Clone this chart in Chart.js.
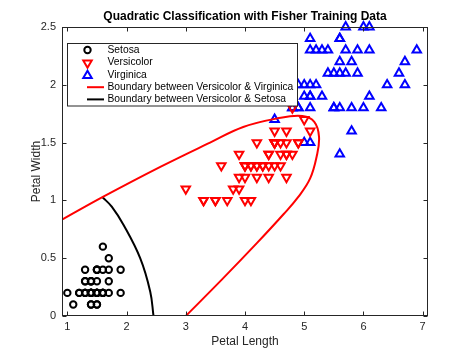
<!DOCTYPE html>
<html><head><meta charset="utf-8">
<script src="https://cdn.jsdelivr.net/npm/chart.js@4"></script>
<style>html,body{margin:0;padding:0;background:#fff;}canvas{display:block;}</style>
</head><body>
<canvas id="c" width="474" height="355"></canvas>
<script>
// ---- data (petal length / petal width) ----
const setosaLength = [1.4,1.4,1.3,1.5,1.4,1.7,1.4,1.5,1.4,1.5,1.5,1.6,1.4,1.1,1.2,1.5,1.3,1.4,1.7,1.5,1.7,1.5,1.0,1.7,1.9,1.6,1.6,1.5,1.4,1.6,1.6,1.5,1.5,1.4,1.5,1.2,1.3,1.4,1.3,1.5,1.3,1.3,1.3,1.6,1.9,1.4,1.6,1.4,1.5,1.4];
const setosaWidth  = [0.2,0.2,0.2,0.2,0.2,0.4,0.3,0.2,0.2,0.1,0.2,0.2,0.1,0.1,0.2,0.4,0.4,0.3,0.3,0.3,0.2,0.4,0.2,0.5,0.2,0.2,0.4,0.2,0.2,0.2,0.2,0.4,0.1,0.2,0.2,0.2,0.2,0.1,0.2,0.2,0.3,0.3,0.2,0.6,0.4,0.3,0.2,0.2,0.2,0.2];
const versicolorLength = [4.7,4.5,4.9,4.0,4.6,4.5,4.7,3.3,4.6,3.9,3.5,4.2,4.0,4.7,3.6,4.4,4.5,4.1,4.5,3.9,4.8,4.0,4.9,4.7,4.3,4.4,4.8,5.0,4.5,3.5,3.8,3.7,3.9,5.1,4.5,4.5,4.7,4.4,4.1,4.0,4.4,4.6,4.0,3.3,4.2,4.2,4.2,4.3,3.0,4.1];
const versicolorWidth  = [1.4,1.5,1.5,1.3,1.5,1.3,1.6,1.0,1.3,1.4,1.0,1.5,1.0,1.4,1.3,1.4,1.5,1.0,1.5,1.1,1.8,1.3,1.5,1.2,1.3,1.4,1.4,1.7,1.5,1.0,1.1,1.0,1.2,1.6,1.5,1.6,1.5,1.3,1.3,1.3,1.2,1.4,1.2,1.0,1.3,1.2,1.3,1.3,1.1,1.3];
const virginicaLength = [6.0,5.1,5.9,5.6,5.8,6.6,4.5,6.3,5.8,6.1,5.1,5.3,5.5,5.0,5.1,5.3,5.5,6.7,6.9,5.0,5.7,4.9,6.7,4.9,5.7,6.0,4.8,4.9,5.6,5.8,6.1,6.4,5.6,5.1,5.6,6.1,5.6,5.5,4.8,5.4,5.6,5.1,5.1,5.9,5.7,5.2,5.0,5.2,5.4,5.1];
const virginicaWidth  = [2.5,1.9,2.1,1.8,2.2,2.1,1.7,1.8,1.8,2.5,2.0,1.9,2.1,2.0,2.4,2.3,1.8,2.2,2.3,1.5,2.3,2.0,2.0,1.8,2.1,1.8,1.8,1.8,2.1,1.6,1.9,2.0,2.2,1.5,1.4,2.3,2.4,1.8,1.8,2.1,2.4,2.3,1.9,2.3,2.5,2.3,1.9,2.0,2.3,1.8];
// boundary curves
const vvBoundaryX = [0.9, 1.6, 2.57, 3.41, 3.97, 4.55, 4.97, 5.17, 5.25, 5.21, 5.10, 4.90, 4.65, 4.20, 3.60, 3.0];
const vvBoundaryY = [0.83, 1.03, 1.29, 1.50, 1.635, 1.71, 1.73, 1.68, 1.55, 1.38, 1.19, 1.03, 0.88, 0.63, 0.31, 0.0];
const vsBoundaryX = [1.595, 1.75, 1.95, 2.23, 2.40, 2.455];
const vsBoundaryY = [1.027, 0.946, 0.787, 0.50, 0.21, 0.0];
const xTicks = [1, 2, 3, 4, 5, 6, 7];
const yTicks = [0, 0.5, 1, 1.5, 2, 2.5];
const legendLabels = ['Setosa', 'Versicolor', 'Virginica', 'Boundary between Versicolor & Virginica', 'Boundary between Versicolor & Setosa'];
const titleText = 'Quadratic Classification with Fisher Training Data';
const xLabel = 'Petal Length';
const yLabel = 'Petal Width';

const pts = (xs, ys) => xs.map((v, i) => ({x: v, y: ys[i]}));
const FONT = "'Liberation Sans', Arial, sans-serif";
const AX = '#262626';
const CIRC_R = 3.2, TRI_R = 4.9;

function tri(ctx, x, y, r, up) {
  let rad = up ? 0 : Math.PI;
  ctx.beginPath();
  ctx.moveTo(x + Math.sin(rad) * r, y - Math.cos(rad) * r);
  rad += 2 * Math.PI / 3;
  ctx.lineTo(x + Math.sin(rad) * r, y - Math.cos(rad) * r);
  rad += 2 * Math.PI / 3;
  ctx.lineTo(x + Math.sin(rad) * r, y - Math.cos(rad) * r);
  ctx.closePath();
  ctx.stroke();
}

const decor = {
  id: 'decor',
  afterDatasetsDraw(chart) {
    const {ctx, chartArea: a, scales: {x, y}} = chart;
    ctx.save();
    ctx.strokeStyle = AX; ctx.lineWidth = 1;
    const L = Math.round(a.left) + 0.5, R = Math.round(a.right) - 0.5;
    const T = Math.round(a.top) + 0.5, B = Math.round(a.bottom) - 0.5;
    ctx.strokeRect(L, T, R - L, B - T);
    ctx.beginPath();
    xTicks.forEach(v => {
      const p = Math.round(x.getPixelForValue(v)) + 0.5;
      ctx.moveTo(p, B); ctx.lineTo(p, B - 4);
      ctx.moveTo(p, T); ctx.lineTo(p, T + 4);
    });
    yTicks.forEach(v => {
      const p = Math.round(y.getPixelForValue(v)) + 0.5;
      ctx.moveTo(L, p); ctx.lineTo(L + 4, p);
      ctx.moveTo(R, p); ctx.lineTo(R - 4, p);
    });
    ctx.stroke();
    ctx.restore();
  },
  afterDraw(chart) {
    const {ctx, chartArea: a} = chart;
    ctx.save();
    // title
    ctx.fillStyle = '#000';
    ctx.font = 'bold 12px ' + FONT;
    ctx.textAlign = 'center'; ctx.textBaseline = 'middle';
    ctx.fillText(titleText, (a.left + a.right) / 2, 17);
    // axis labels
    ctx.fillStyle = AX;
    ctx.font = '12px ' + FONT;
    ctx.fillText(xLabel, (a.left + a.right) / 2, 341.5);
    ctx.save();
    ctx.translate(37, (a.top + a.bottom) / 2);
    ctx.rotate(-Math.PI / 2);
    ctx.fillText(yLabel, 0, 0);
    ctx.restore();
    // legend
    const bx = 67.5, by = 43.5, bw = 230, bh = 62.5;
    ctx.fillStyle = '#fff';
    ctx.fillRect(bx, by, bw, bh);
    ctx.strokeStyle = AX; ctx.lineWidth = 1;
    ctx.strokeRect(bx, by, bw, bh);
    const rows = [50, 62.4, 74.8, 87.2, 99.4];
    const mx = 87.5;
    ctx.lineWidth = 2;
    ctx.strokeStyle = '#000';
    ctx.beginPath(); ctx.arc(mx, rows[0], CIRC_R, 0, Math.PI * 2); ctx.stroke();
    ctx.strokeStyle = '#ff0000'; tri(ctx, mx, rows[1] + 0.5, TRI_R, false);
    ctx.strokeStyle = '#0000ff'; tri(ctx, mx, rows[2] + 0.8, TRI_R, true);
    ctx.beginPath(); ctx.strokeStyle = '#ff0000'; ctx.moveTo(87, rows[3]); ctx.lineTo(104, rows[3]); ctx.stroke();
    ctx.beginPath(); ctx.strokeStyle = '#000'; ctx.moveTo(87, rows[4]); ctx.lineTo(104, rows[4]); ctx.stroke();
    ctx.fillStyle = '#000';
    ctx.font = '10.3px ' + FONT;
    ctx.textAlign = 'left'; ctx.textBaseline = 'middle';
    legendLabels.forEach((t, i) => ctx.fillText(t, 107.5, rows[i]));
    ctx.restore();
  }
};

new Chart(document.getElementById('c'), {
  type: 'scatter',
  data: {
    datasets: [
      {label: legendLabels[0], data: pts(setosaLength, setosaWidth), pointStyle: 'circle', pointRadius: CIRC_R, pointHoverRadius: CIRC_R,
       borderColor: '#000', backgroundColor: 'rgba(0,0,0,0)', pointBorderWidth: 2, borderWidth: 2, clip: false, order: 2},
      {label: legendLabels[1], data: pts(versicolorLength, versicolorWidth), pointStyle: 'triangle', rotation: 180, pointRadius: TRI_R, pointHoverRadius: TRI_R,
       borderColor: '#ff0000', backgroundColor: 'rgba(0,0,0,0)', pointBorderWidth: 2, borderWidth: 2, clip: false, order: 2},
      {label: legendLabels[2], data: pts(virginicaLength, virginicaWidth), pointStyle: 'triangle', pointRadius: TRI_R, pointHoverRadius: TRI_R,
       borderColor: '#0000ff', backgroundColor: 'rgba(0,0,0,0)', pointBorderWidth: 2, borderWidth: 2, clip: false, order: 2},
      {label: legendLabels[3], data: pts(vvBoundaryX, vvBoundaryY), showLine: true, pointRadius: 0, borderColor: '#ff0000', borderWidth: 2, tension: 0.4, fill: false, order: 1},
      {label: legendLabels[4], data: pts(vsBoundaryX, vsBoundaryY), showLine: true, pointRadius: 0, borderColor: '#000', borderWidth: 2, tension: 0.4, fill: false, order: 1}
    ]
  },
  options: {
    responsive: false,
    animation: false,
    devicePixelRatio: 1,
    layout: {padding: {left: 0, right: 46, top: 27, bottom: 0}},
    plugins: {legend: {display: false}, title: {display: false}, tooltip: {enabled: false}},
    events: [],
    scales: {
      x: {
        type: 'linear', min: 0.91, max: 7.09,
        grid: {display: false, drawTicks: false}, border: {display: false},
        afterBuildTicks: s => { s.ticks = xTicks.map(v => ({value: v})); },
        afterFit: s => { s.height = 39; },
        ticks: {color: AX, font: {family: FONT, size: 11}, padding: 4, maxRotation: 0, autoSkip: false, callback: v => String(v)}
      },
      y: {
        type: 'linear', min: 0, max: 2.5,
        grid: {display: false, drawTicks: false}, border: {display: false},
        afterBuildTicks: s => { s.ticks = yTicks.map(v => ({value: v})); },
        afterFit: s => { s.width = 62; },
        ticks: {color: AX, font: {family: FONT, size: 11}, padding: 6, autoSkip: false, callback: v => String(v)}
      }
    }
  },
  plugins: [decor]
});
</script>
</body></html>
